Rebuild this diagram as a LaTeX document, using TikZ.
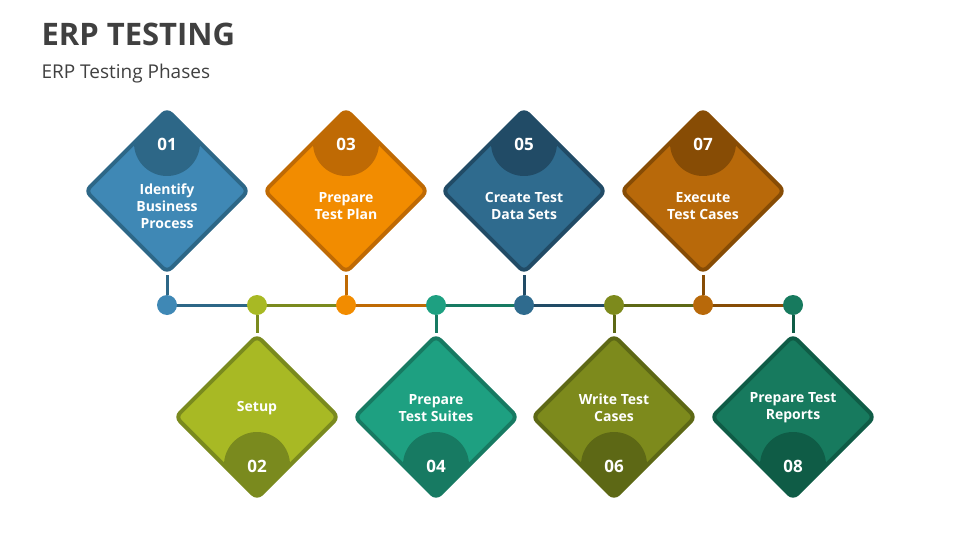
\documentclass[tikz,border=0pt]{standalone}
\usepackage{fontspec}
\setmainfont{Open Sans}
\usetikzlibrary{positioning,shapes.geometric}

\definecolor{f1}{HTML}{3F88B5}\definecolor{e1}{HTML}{2D6787}
\definecolor{f2}{HTML}{A8B924}\definecolor{e2}{HTML}{7A8A1E}
\definecolor{f3}{HTML}{F28C00}\definecolor{e3}{HTML}{BF6A04}
\definecolor{f4}{HTML}{1EA081}\definecolor{e4}{HTML}{177A62}
\definecolor{f5}{HTML}{2F6B8E}\definecolor{e5}{HTML}{214B66}
\definecolor{f6}{HTML}{7D8A1C}\definecolor{e6}{HTML}{5D6815}
\definecolor{f7}{HTML}{B8690A}\definecolor{e7}{HTML}{874C05}
\definecolor{f8}{HTML}{177A5E}\definecolor{e8}{HTML}{0F5C46}
\definecolor{titlegray}{HTML}{404040}

\begin{document}
\begin{tikzpicture}[x=1pt,y=-1pt,
  stepdia/.style={diamond,aspect=1,minimum size=164pt,inner sep=0pt,line width=4pt,rounded corners=6pt},
  dot/.style={circle,minimum size=20pt,inner sep=0pt},
  steptext/.style={text=white,font=\fontsize{14}{17}\selectfont\bfseries,align=center},
  numtext/.style={text=white,font=\fontsize{17}{20}\selectfont\bfseries}]

\useasboundingbox (0,0) rectangle (960,540);
\node[anchor=west,text=titlegray,font=\fontsize{31}{36}\selectfont\bfseries] (title) at (38,34) {ERP TESTING};
\node[anchor=west,text=titlegray,font=\fontsize{19}{22}\selectfont] (subtitle) at (38,74) {ERP Testing Phases};

% connectors along the line
\foreach \i/\j/\xa/\xb in {1/2/167/257,2/3/257/346,3/4/346/436,4/5/436/524,5/6/524/614,6/7/614/703,7/8/703/793}{
  \draw[e\i,line width=3pt] (\xa,305) -- (\xb,305);
}

\foreach \i/\cx/\cy/\dy/\txt in {
  1/167/191/-48/{Identify\\Business\\Process},
  2/257/417/48/{Setup},
  3/346/191/-48/{Prepare\\Test Plan},
  4/436/417/48/{Prepare\\Test Suites},
  5/524/191/-48/{Create Test\\Data Sets},
  6/614/417/48/{Write Test\\Cases},
  7/703/191/-48/{Execute\\Test Cases},
  8/793/417/48/{Prepare Test\\Reports}}{
  \node[dot,fill=f\i] (p\i) at (\cx,305) {};
  \node[stepdia,fill=f\i,draw=e\i] (d\i) at (\cx,\cy) {};
  \draw[e\i,line width=3pt] (d\i) -- (p\i);
  \begin{scope}
    \clip (\cx,\cy-80) -- (\cx+80,\cy) -- (\cx,\cy+80) -- (\cx-80,\cy) -- cycle;
    \fill[e\i] (\cx,\cy+\dy) circle (33);
  \end{scope}
  \node[numtext] (n\i) at (\cx,\cy+\dy+1) {0\i};
  \node[steptext] (t\i) at (\cx,\cy-\dy/4+3) {\txt};
}
\end{tikzpicture}
\end{document}
